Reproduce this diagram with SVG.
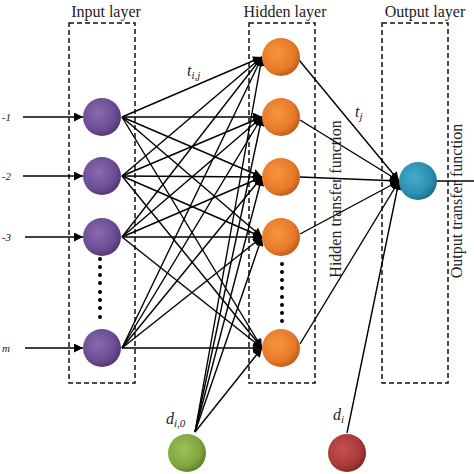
<svg xmlns="http://www.w3.org/2000/svg" width="474" height="474" viewBox="0 0 474 474">
<defs>
<style>
.lbl{font-family:"Liberation Serif",serif;font-size:16px;fill:#222}
.it{font-family:"Liberation Serif",serif;font-style:italic;fill:#222}
.box{fill:none;stroke:#111;stroke-width:1.5;stroke-dasharray:5,3}
line{stroke:#000;stroke-width:1.4}
.a{marker-end:url(#ah)}
.dot{fill:#000}
</style>
<marker id="ah" viewBox="0 0 10 10" refX="10" refY="5" markerWidth="9" markerHeight="9" markerUnits="userSpaceOnUse" orient="auto"><path d="M0,0L10,5L0,10z" fill="#000"/></marker>
<radialGradient id="gp" cx="0.4" cy="0.4" r="0.65"><stop offset="0" stop-color="#8a6bb0"/><stop offset="0.7" stop-color="#6b4c94"/><stop offset="1" stop-color="#4e3470"/></radialGradient>
<radialGradient id="go" cx="0.4" cy="0.4" r="0.65"><stop offset="0" stop-color="#f6963e"/><stop offset="0.7" stop-color="#e8792a"/><stop offset="1" stop-color="#b85a18"/></radialGradient>
<radialGradient id="gb" cx="0.4" cy="0.4" r="0.65"><stop offset="0" stop-color="#45aecb"/><stop offset="0.7" stop-color="#2a8eaf"/><stop offset="1" stop-color="#1c6a86"/></radialGradient>
<radialGradient id="gg" cx="0.4" cy="0.4" r="0.65"><stop offset="0" stop-color="#9cc15a"/><stop offset="0.7" stop-color="#7fa63c"/><stop offset="1" stop-color="#5c7d26"/></radialGradient>
<radialGradient id="gr" cx="0.4" cy="0.4" r="0.65"><stop offset="0" stop-color="#c8504d"/><stop offset="0.7" stop-color="#a83a38"/><stop offset="1" stop-color="#7c2624"/></radialGradient>
</defs>
<rect width="474" height="474" fill="#fff"/>

<text class="lbl" x="106" y="17" text-anchor="middle">Input layer</text>
<text class="lbl" x="285" y="17" text-anchor="middle">Hidden layer</text>
<text class="lbl" x="425" y="17" text-anchor="middle">Output layer</text>

<rect class="box" x="69" y="23" width="66" height="360"/>
<rect class="box" x="249" y="23" width="66" height="360"/>
<rect class="box" x="382" y="23" width="66" height="360"/>

<text class="lbl" transform="translate(341,199) rotate(-90)" text-anchor="middle" font-size="14.5">Hidden transfer function</text>
<text class="lbl" transform="translate(462,201) rotate(-90)" text-anchor="middle" font-size="14.5">Output transfer function</text>

<g id="connectors">
<line class="a" x1="23" y1="117" x2="83" y2="117"/>
<line class="a" x1="23" y1="176" x2="83" y2="176"/>
<line class="a" x1="25" y1="237" x2="83" y2="237"/>
<line class="a" x1="25" y1="348" x2="83" y2="348"/>

<line class="a" x1="122" y1="117" x2="262" y2="57"/><line class="a" x1="122" y1="117" x2="262" y2="117"/><line class="a" x1="122" y1="117" x2="262" y2="177"/><line class="a" x1="122" y1="117" x2="262" y2="237"/><line class="a" x1="122" y1="117" x2="262" y2="348"/>
<line class="a" x1="122" y1="176" x2="262" y2="57"/><line class="a" x1="122" y1="176" x2="262" y2="117"/><line class="a" x1="122" y1="176" x2="262" y2="177"/><line class="a" x1="122" y1="176" x2="262" y2="237"/><line class="a" x1="122" y1="176" x2="262" y2="348"/>
<line class="a" x1="122" y1="237" x2="262" y2="57"/><line class="a" x1="122" y1="237" x2="262" y2="117"/><line class="a" x1="122" y1="237" x2="262" y2="177"/><line class="a" x1="122" y1="237" x2="262" y2="237"/><line class="a" x1="122" y1="237" x2="262" y2="348"/>
<line class="a" x1="122" y1="348" x2="262" y2="57"/><line class="a" x1="122" y1="348" x2="262" y2="117"/><line class="a" x1="122" y1="348" x2="262" y2="177"/><line class="a" x1="122" y1="348" x2="262" y2="237"/><line class="a" x1="122" y1="348" x2="262" y2="348"/>
<line class="a" x1="195" y1="432" x2="262" y2="57"/><line class="a" x1="195" y1="432" x2="262" y2="117"/><line class="a" x1="195" y1="432" x2="262" y2="177"/><line class="a" x1="195" y1="432" x2="262" y2="237"/><line class="a" x1="195" y1="432" x2="262" y2="348"/>

<line class="a" x1="299" y1="60" x2="399" y2="181"/>
<line class="a" x1="300" y1="120" x2="399" y2="181"/>
<line class="a" x1="300" y1="177" x2="399" y2="181"/>
<line class="a" x1="300" y1="234" x2="399" y2="181"/>
<line class="a" x1="300" y1="344" x2="399" y2="181"/>
<line class="a" x1="347" y1="433" x2="399" y2="181"/>
<line x1="437" y1="181" x2="474" y2="181"/>
</g>

<g id="input-nodes">
<circle cx="102" cy="117" r="19" fill="url(#gp)"/>
<circle cx="102" cy="176" r="19" fill="url(#gp)"/>
<circle cx="102" cy="237" r="19" fill="url(#gp)"/>
<circle cx="102" cy="348" r="19" fill="url(#gp)"/>
</g>
<g id="hidden-nodes">
<circle cx="281" cy="57" r="19" fill="url(#go)"/>
<circle cx="281" cy="117" r="19" fill="url(#go)"/>
<circle cx="281" cy="177" r="19" fill="url(#go)"/>
<circle cx="281" cy="237" r="19" fill="url(#go)"/>
<circle cx="281" cy="348" r="19" fill="url(#go)"/>
</g>
<g id="output-node"><circle cx="418" cy="181" r="19" fill="url(#gb)"/></g>
<g id="bias-hidden"><circle cx="187" cy="453" r="19" fill="url(#gg)"/></g>
<g id="bias-output"><circle cx="347" cy="453" r="19" fill="url(#gr)"/></g>

<g id="dots">
<circle class="dot" cx="100" cy="259" r="2"/><circle class="dot" cx="100" cy="267" r="2"/><circle class="dot" cx="100" cy="275" r="2"/><circle class="dot" cx="100" cy="283" r="2"/><circle class="dot" cx="100" cy="292" r="2"/><circle class="dot" cx="100" cy="300" r="2"/><circle class="dot" cx="100" cy="308" r="2"/><circle class="dot" cx="100" cy="317" r="2"/>
<circle class="dot" cx="282" cy="264" r="2"/><circle class="dot" cx="282" cy="272" r="2"/><circle class="dot" cx="282" cy="280" r="2"/><circle class="dot" cx="282" cy="288" r="2"/><circle class="dot" cx="282" cy="297" r="2"/><circle class="dot" cx="282" cy="305" r="2"/><circle class="dot" cx="282" cy="313" r="2"/><circle class="dot" cx="282" cy="321" r="2"/>
</g>

<text class="it" x="11" y="121" text-anchor="end" font-size="11">-1</text>
<text class="it" x="11" y="180" text-anchor="end" font-size="11">-2</text>
<text class="it" x="11" y="241" text-anchor="end" font-size="11">-3</text>
<text class="it" x="10" y="352" text-anchor="end" font-size="11">m</text>

<text class="it" x="187" y="76" font-size="16">t<tspan font-size="11" dy="3">i,j</tspan></text>
<text class="it" x="355" y="117" font-size="16">t<tspan font-size="11" dy="3">j</tspan></text>
<text class="it" x="166" y="424" font-size="16">d<tspan font-size="11" dy="3">i,0</tspan></text>
<text class="it" x="333" y="420" font-size="16">d<tspan font-size="11" dy="3">i</tspan></text>
</svg>
